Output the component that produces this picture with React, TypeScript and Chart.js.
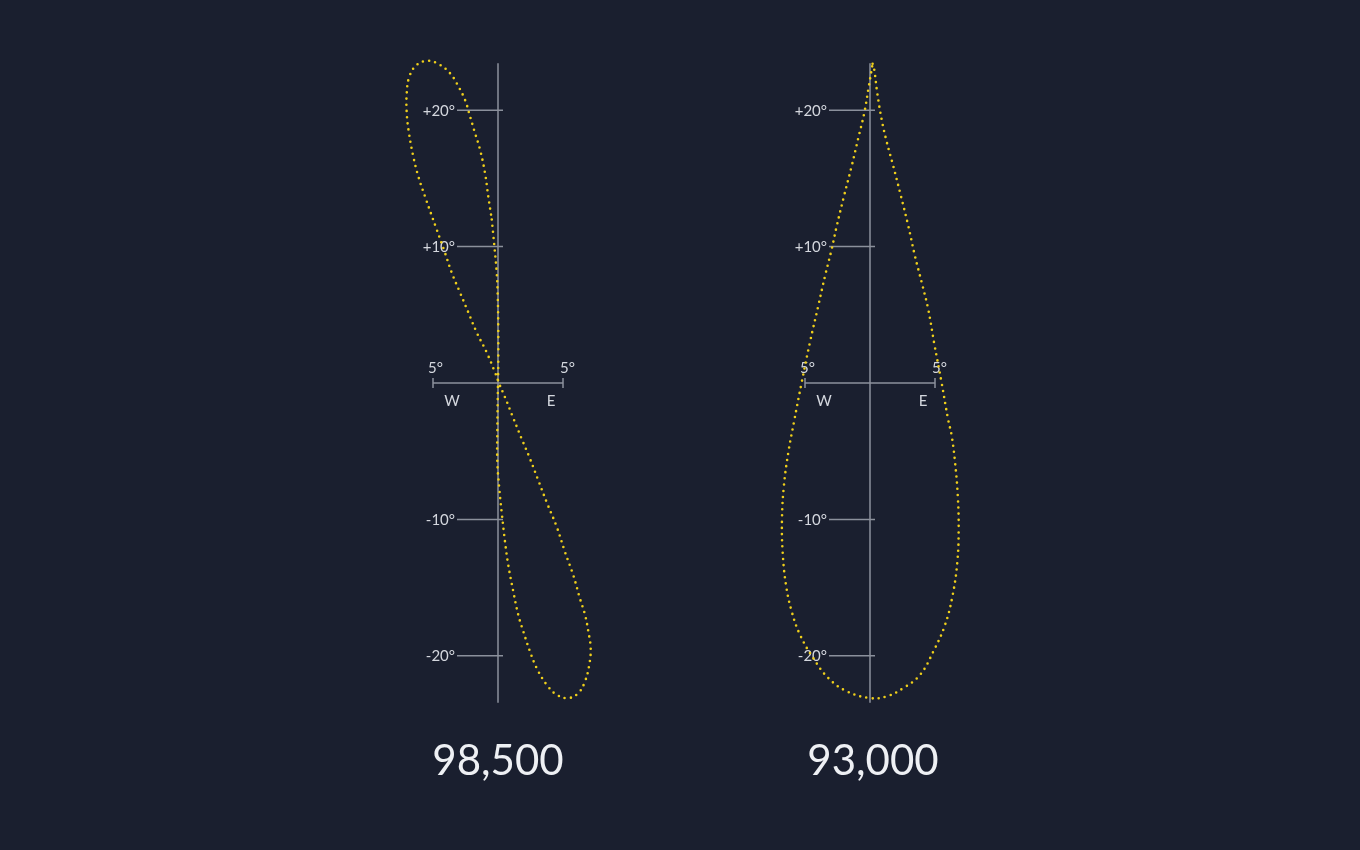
import { useEffect, useRef } from "react"
import { Chart, registerables } from "chart.js"

Chart.register(...registerables)

// declination ticks (degrees) and their labels
const yTicks = [20, 10, -10, -20]
const yTickLabels = ["+20°", "+10°", "-10°", "-20°"]
const xTickLabel = "5°"
const westLabel = "W"
const eastLabel = "E"
const tiltLimit = 23.44

// figure-eight, 98,500 years ago (x: degrees east/west, y: declination)
const leftYear = "98,500"
const leftX = [
  -0.48, -0.28, -0.1, -0.02, 0.02, 0.02, 0.0, -0.05, -0.05, 0.1, 0.28, 0.54, 0.79, 1.18, 1.56, 1.95,
  2.46, 2.98, 3.75, 4.52, 5.41, 6.18, 6.69, 7.02, 7.13, 6.95, 6.7, 6.3, 5.79, 5.15, 4.52, 3.79,
  3.1, 2.41, 1.82, 1.1, 0.54, 0.1, -0.23, -0.87, -1.64, -2.28, -2.92, -3.56, -4.08, -4.72, -5.62,
  -6.13, -6.52, -6.85, -7.02, -7.02, -6.82, -6.25, -5.36, -4.46, -3.69, -3.18, -2.54, -2.15, -1.77,
  -1.38, -1.0, -0.75, -0.48,
]
const leftY = [
  11.99, 10.04, 8.09, 6.38, 3.95, 1.51, 0.07, -3.36, -5.8, -7.75, -9.45, -11.64, -13.35, -15.3, -17.0,
  -18.22, -19.68, -20.91, -22.13, -22.86, -23.1, -22.73, -21.88, -20.66, -19.44, -18.22, -17.01,
  -15.79, -14.09, -12.38, -10.55, -8.85, -7.14, -5.43, -4.09, -2.39, -1.05, -0.07, 0.78, 2.24, 3.71,
  5.17, 6.63, 8.09, 9.55, 11.26, 13.69, 15.15, 16.62, 18.33, 19.79, 21.25, 22.46, 23.32, 23.63,
  23.32, 22.71, 21.98, 20.76, 19.54, 18.33, 17.1, 15.4, 13.69, 11.99,
]

// teardrop, 93,000 years ago
const rightYear = "93,000"
const rightX = [
  0.2, 0.33, 0.56, 0.9, 1.28, 1.79, 2.38, 2.95, 3.46, 3.98, 4.48, 4.95, 5.5, 6.0, 6.28, 6.54, 6.75,
  6.82, 6.72, 6.36, 5.77, 4.87, 3.85, 2.56, 1.28, 0, -1.79, -3.2, -4.36, -5.38, -6.02, -6.46, -6.72,
  -6.77, -6.62, -6.28, -5.85, -5.25, -4.62, -3.98, -3.46, -2.95, -2.56, -2.0, -1.41, -0.9, -0.44,
  -0.1, 0.2,
]
const rightY = [
  23.4, 22.95, 21.25, 19.3, 17.7, 15.9, 13.7, 11.5, 9.3, 7.36, 5.4, 2.85, 0.07, -2.63, -3.85, -5.8,
  -8.24, -10.67, -13.1, -15.55, -17.74, -19.69, -21.4, -22.37, -22.98, -23.1, -22.6, -21.64, -20.18,
  -18.47, -16.76, -14.82, -12.38, -9.94, -7.5, -5.07, -2.87, 0.07, 2.98, 5.65, 7.84, 9.8, 11.5, 13.7,
  15.9, 17.96, 19.8, 21.7, 23.4,
]

const background = "#1a1f2f"
const axisColor = "rgba(160, 165, 175, 0.85)"
const labelColor = "#d4d7de"
const curveColor = "#efcf1b"

const axesPlugin = {
  id: "analemmaAxes",
  beforeDatasetsDraw(chart: any, _args: any, opts: any) {
    const { ctx, scales } = chart
    const x = scales.x
    const y = scales.y
    const x0 = x.getPixelForValue(0)
    const y0 = y.getPixelForValue(0)
    const xw = x.getPixelForValue(-5)
    const xe = x.getPixelForValue(5)
    const yBottom = y.getPixelForValue(-tiltLimit)

    ctx.save()
    ctx.strokeStyle = axisColor
    ctx.lineWidth = 1.5
    ctx.beginPath()
    ctx.moveTo(x0, y.getPixelForValue(tiltLimit))
    ctx.lineTo(x0, yBottom)
    ctx.moveTo(xw, y0)
    ctx.lineTo(xe, y0)
    ctx.moveTo(xw, y0 - 5)
    ctx.lineTo(xw, y0 + 5)
    ctx.moveTo(xe, y0 - 5)
    ctx.lineTo(xe, y0 + 5)
    yTicks.forEach(v => {
      const py = y.getPixelForValue(v)
      ctx.moveTo(x0 - 41, py)
      ctx.lineTo(x0 + 5, py)
    })
    ctx.stroke()

    ctx.fillStyle = labelColor
    ctx.font = "15px Lato"
    ctx.textBaseline = "alphabetic"
    ctx.textAlign = "right"
    yTicks.forEach((v, i) => {
      ctx.fillText(yTickLabels[i], x0 - 43, y.getPixelForValue(v) + 5.5)
    })
    ctx.textAlign = "left"
    ctx.fillText(xTickLabel, xw - 5, y0 - 10)
    ctx.fillText(xTickLabel, xe - 3, y0 - 10)
    ctx.textAlign = "center"
    ctx.fillText(westLabel, xw + 19, y0 + 23)
    ctx.fillText(eastLabel, xe - 12, y0 + 23)

    ctx.fillStyle = "#eef0f4"
    ctx.font = "42px Lato"
    ctx.fillText(opts.title, x0 + (opts.titleShift || 0), yBottom + 72)
    ctx.restore()
  },
}

function Analemma({ xs, ys, year, left, padLeft, titleShift }: {
  xs: number[]; ys: number[]; year: string; left: number; padLeft: number; titleShift: number
}) {
  const chartRef = useRef<HTMLCanvasElement | null>(null)

  useEffect(() => {
    if (!chartRef.current) return
    const chart = new Chart(chartRef.current, {
      type: "scatter",
      data: {
        datasets: [{
          data: xs.map((x, i) => ({ x, y: ys[i] })),
          showLine: true,
          tension: 0.4,
          borderColor: curveColor,
          borderWidth: 2.6,
          borderDash: [0, 6.2],
          borderCapStyle: "round",
          pointRadius: 0,
        }],
      },
      options: {
        animation: false,
        responsive: false,
        events: [],
        layout: { padding: { left: padLeft, right: 680 - padLeft - 260, top: 42, bottom: 126 } },
        plugins: {
          legend: { display: false },
          tooltip: { enabled: false },
          analemmaAxes: { title: year, titleShift },
        } as any,
        scales: {
          x: { type: "linear", min: -10, max: 10, display: false },
          y: { type: "linear", min: -25, max: 25, display: false },
        },
      },
      plugins: [axesPlugin],
    })
    return () => {
      chart.destroy()
    }
  }, [xs, ys, year, padLeft, titleShift])

  return (
    <canvas
      ref={chartRef}
      width={680}
      height={850}
      style={{ position: "absolute", left, top: 0, width: 680, height: 850 }}
    />
  )
}

export default function App() {
  return (
    <div style={{ position: "fixed", left: 0, top: 0, width: 1360, height: 850, background, overflow: "hidden" }}>
      <Analemma xs={leftX} ys={leftY} year={leftYear} left={0} padLeft={368} titleShift={0} />
      <Analemma xs={rightX} ys={rightY} year={rightYear} left={680} padLeft={60} titleShift={3} />
    </div>
  )
}
